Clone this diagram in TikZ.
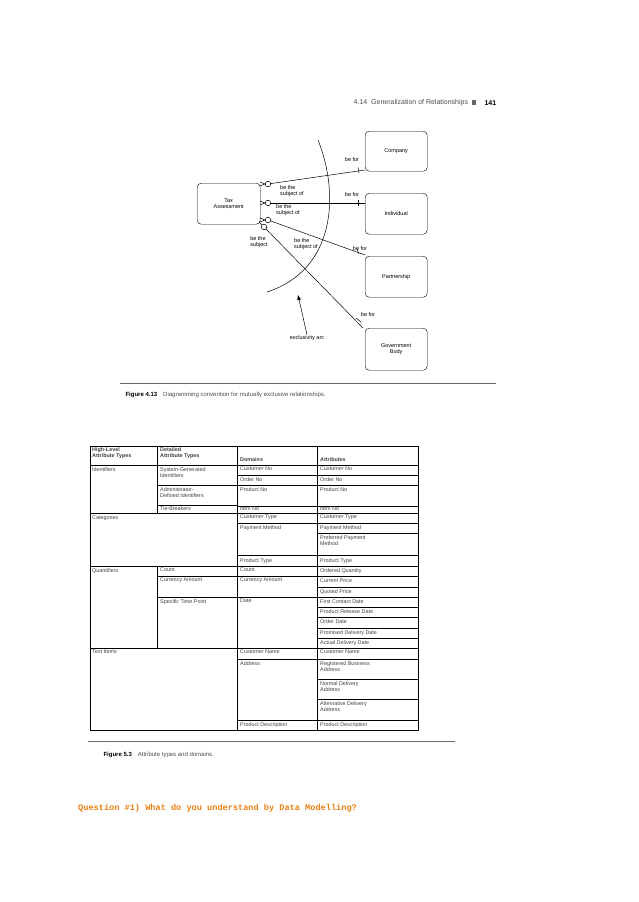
\documentclass[tikz,border=0pt]{standalone}
\usepackage{fontspec}
\setmainfont{Liberation Sans}
\newfontfamily\qfont{Liberation Mono}
\usetikzlibrary{arrows.meta}
\definecolor{qorange}{RGB}{232,128,20}
\begin{document}
\begin{tikzpicture}[x=1pt,y=-1pt,
  ent/.style={draw,rounded corners=4pt,thin,align=center,font=\fontsize{5.5}{6.5}\selectfont,anchor=north west},
  lbl/.style={font=\fontsize{5.5}{6.5}\selectfont,align=left,inner sep=0.5pt},
  cell/.style={font=\fontsize{5.4}{6}\selectfont,anchor=north west,align=left,inner sep=0pt,text=black!75},
  hd/.style={cell,font=\fontsize{5.4}{6}\selectfont\bfseries},
  thk/.style={line width=0.9pt},
  tn/.style={line width=0.5pt}]
\useasboundingbox (0,0) rectangle (638,902);
% header
\node[anchor=east,font=\fontsize{7}{8}\selectfont,text=black!70] (hdr) at (480,103) {4.14\ \ Generalization of Relationships\ \ \textcolor{black!60}{\rule{4.5pt}{4.5pt}}};
\node[anchor=west,font=\fontsize{7}{8}\selectfont\bfseries] (pg) at (481,103) {141};
% entities
\node[ent,minimum width=63pt,minimum height=41pt] (tax) at (197,183) {Tax\\Assessment};
\node[ent,minimum width=62pt,minimum height=40pt] (co) at (365,131) {Company};
\node[ent,minimum width=62pt,minimum height=41pt] (ind) at (365,193) {Individual};
\node[ent,minimum width=62pt,minimum height=41pt] (par) at (365,256) {Partnership};
\node[ent,minimum width=62pt,minimum height=42pt] (gov) at (365,328) {Government\\Body};
% relationship lines
\coordinate (a1) at (268,184); \coordinate (b1) at (365,170);
\coordinate (a2) at (268,203); \coordinate (b2) at (365,203);
\coordinate (a3) at (268,220); \coordinate (b3) at (365,255);
\coordinate (a4) at (264,227); \coordinate (b4) at (363,328);
\draw[tn] (a1) -- (b1); \draw[tn] (a2) -- (b2); \draw[tn] (a3) -- (b3); \draw[tn] (a4) -- (b4);
\foreach \p in {a1,a2,a3,a4} \draw[tn,fill=white] (\p) circle (2.8pt);
\draw[tn] (260,182) -- (265,184) -- (260,186);
\draw[tn] (260,201) -- (265,203) -- (260,205);
\draw[tn] (260,218) -- (265,220) -- (260,222);
\draw[tn] (259,222) -- (262,225);
\draw[tn] (358,167.5) -- (359,173);
\draw[tn] (358,200) -- (358,206);
\draw[tn] (357,249) -- (359,254);
\draw[tn] (356,318) -- (361,322);
% arc
\draw[tn] (318,140) .. controls (340,195) and (335,270) .. (267,292);
\node[lbl] (ex) at (307,338) {exclusivity arc};
\draw[tn,-{Triangle[length=5pt,width=3.5pt]}] (ex.north) -- (298,295);
% labels
\node[lbl] (l1) at (352,160) {be for};
\node[lbl] (l2) at (352,195) {be for};
\node[lbl] (l3) at (360,249) {be for};
\node[lbl] (l4) at (368,315) {be for};
\node[lbl] (s1) at (292,191) {be the\\subject of};
\node[lbl] (s2) at (288,210) {be the\\subject of};
\node[lbl] (s3) at (306,244) {be the\\subject of};
\node[lbl] (s4) at (259,242) {be the\\subject};
% caption 1
\draw[line width=0.8pt,black!60] (120,383) -- (496,383);
\node[anchor=west,font=\fontsize{6}{7}\selectfont] (c1) at (122,395) {\textbf{Figure 4.13}\quad\textcolor{black!70}{Diagramming convention for mutually exclusive relationships.}};
% table
\def\xa{90}\def\xb{157}\def\xc{237}\def\xd{317}\def\xe{418}
\draw[thk] (\xa,446) rectangle (\xe,730);
\draw[thk] (\xb,446) -- (\xb,513); \draw[thk] (\xb,566) -- (\xb,648);
\draw[thk] (\xc,446) -- (\xc,730); \draw[thk] (\xd,446) -- (\xd,730);
\draw[thk] (\xa,465) -- (\xe,465);
\draw[thk] (\xa,513) -- (\xe,513);
\draw[thk] (\xa,566) -- (\xe,566);
\draw[thk] (\xa,648) -- (\xe,648);
\foreach \y in {475,485} \draw[tn] (\xc,\y) -- (\xe,\y);
\draw[tn] (\xb,485) -- (\xc,485);
\draw[tn] (\xb,505) -- (\xc,505); \draw[tn] (\xc,506) -- (\xe,506);
\draw[tn] (\xc,523) -- (\xe,523); \draw[tn] (\xd,533) -- (\xe,533);
\draw[tn] (\xc,555) -- (\xe,555);
\draw[tn] (\xb,576) -- (\xe,576); \draw[tn] (\xd,587) -- (\xe,587);
\draw[tn] (\xb,597) -- (\xe,597);
\foreach \y in {607,617,628,638} \draw[tn] (\xd,\y) -- (\xe,\y);
\draw[tn] (\xc,659) -- (\xe,659);
\foreach \y in {679,699} \draw[tn] (\xd,\y) -- (\xe,\y);
\draw[tn] (\xc,720) -- (\xe,720);
% table text
\node[hd] (h1) at (92,447) {High-Level\\Attribute Types};
\node[hd] (h2) at (160,447) {Detailed\\Attribute Types};
\node[hd] (h3) at (240,457) {Domains};
\node[hd] (h4) at (320,457) {Attributes};
\node[cell] at (92,467) {Identifiers};
\node[cell] at (160,467) {System-Generated\\Identifiers};
\node[cell] at (160,487) {Administrator-\\Defined Identifiers};
\node[cell] at (160,506.5) {Tie-Breakers};
\node[cell] at (240,467) {Customer No};
\node[cell] at (240,477) {Order No};
\node[cell] at (240,487) {Product No};
\node[cell] at (240,507) {Item No};
\node[cell] at (320,467) {Customer No};
\node[cell] at (320,477) {Order No};
\node[cell] at (320,487) {Product No};
\node[cell] at (320,507) {Item No};
\node[cell] at (92,515) {Categories};
\node[cell] at (240,515) {Customer Type};
\node[cell] at (240,525) {Payment Method};
\node[cell] at (240,558) {Product Type};
\node[cell] at (320,515) {Customer Type};
\node[cell] at (320,525) {Payment Method};
\node[cell] at (320,535) {Preferred Payment\\Method};
\node[cell] at (320,558) {Product Type};
\node[cell] at (92,568) {Quantifiers};
\node[cell] at (160,568) {Count};
\node[cell] at (160,578) {Currency Amount};
\node[cell] at (160,599) {Specific Time Point};
\node[cell] at (240,568) {Count};
\node[cell] at (240,578) {Currency Amount};
\node[cell] at (240,599) {Date};
\node[cell] at (320,568) {Ordered Quantity};
\node[cell] at (320,578) {Current Price};
\node[cell] at (320,589) {Quoted Price};
\node[cell] at (320,599) {First Contact Date};
\node[cell] at (320,609) {Product Release Date};
\node[cell] at (320,619) {Order Date};
\node[cell] at (320,630) {Promised Delivery Date};
\node[cell] at (320,640) {Actual Delivery Date};
\node[cell] at (92,650) {Text Items};
\node[cell] at (240,650) {Customer Name};
\node[cell] at (240,661) {Address};
\node[cell] at (240,722) {Product Description};
\node[cell] at (320,650) {Customer Name};
\node[cell] at (320,661) {Registered Business\\Address};
\node[cell] at (320,681) {Normal Delivery\\Address};
\node[cell] at (320,701) {Alternative Delivery\\Address};
\node[cell] at (320,722) {Product Description};
% caption 2
\draw[line width=0.8pt,black!60] (88,741) -- (455,741);
\node[anchor=west,font=\fontsize{6}{7}\selectfont] (c2) at (100,755) {\textbf{Figure 5.3}\quad\textcolor{black!70}{Attribute types and domains.}};
% question
\node[anchor=west,font=\qfont\fontsize{8.6}{10}\selectfont\bfseries,text=qorange,inner sep=0pt] (q) at (78,808) {Question \#1) What do you understand by Data Modelling?};
\end{tikzpicture}
\end{document}
